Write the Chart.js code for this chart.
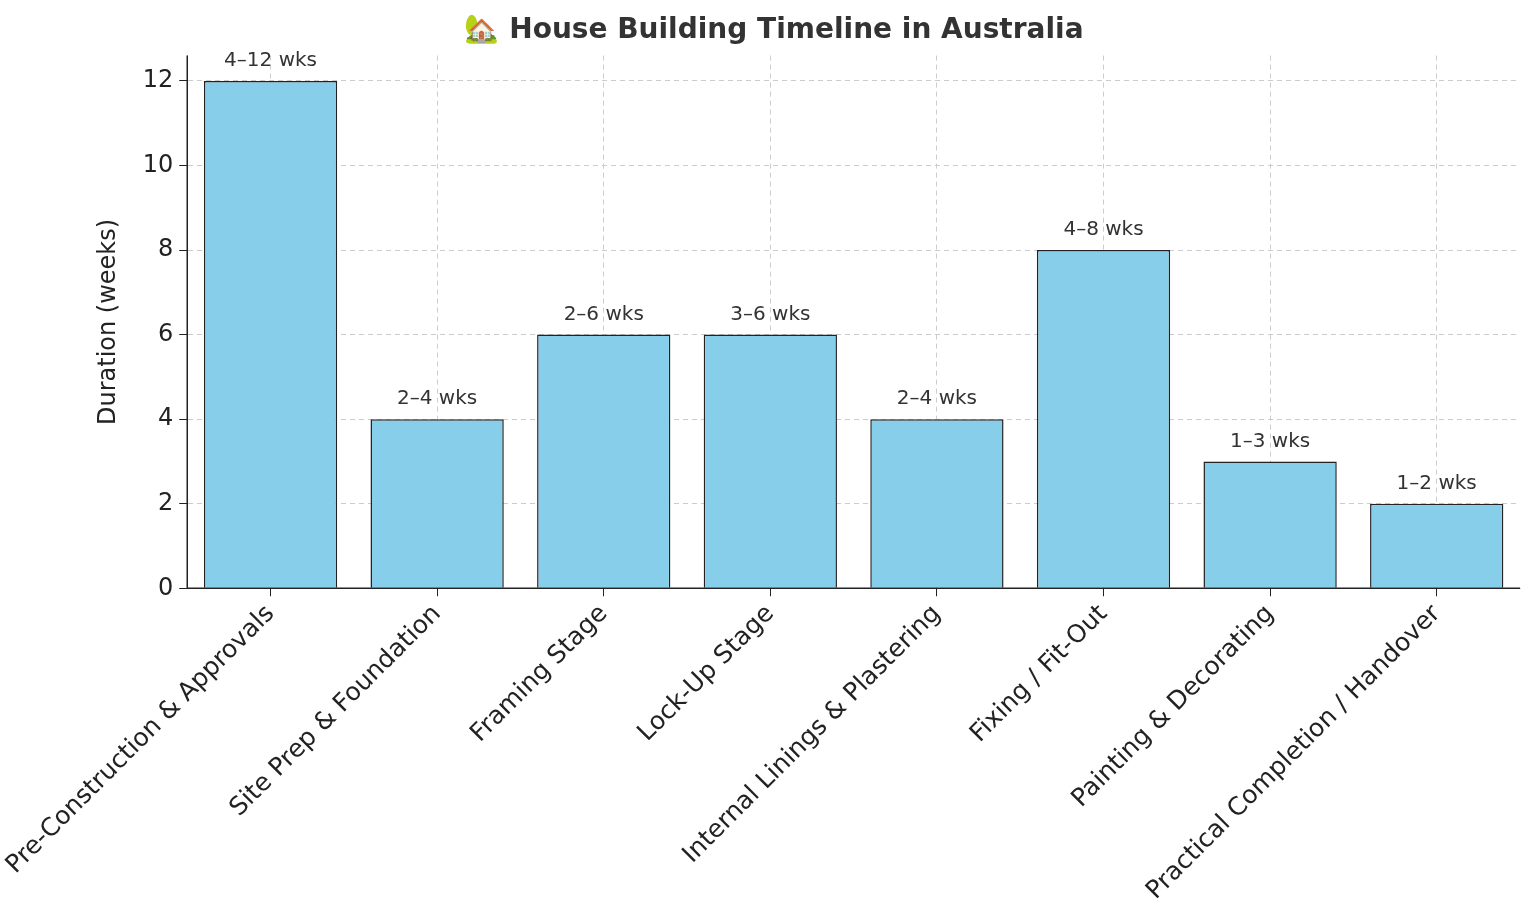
<!DOCTYPE html>
<html><head><meta charset="utf-8">
<script src="https://cdn.jsdelivr.net/npm/chart.js@4"></script>
<style>html,body{margin:0;background:#fff}#w{width:1536px;height:923px}</style>
</head><body><div id="w"><canvas id="c"></canvas></div>
<script>
const categories=["Pre-Construction & Approvals","Site Prep & Foundation","Framing Stage","Lock-Up Stage","Internal Linings & Plastering","Fixing / Fit-Out","Painting & Decorating","Practical Completion / Handover"];
const durations=[12,4,6,6,4,8,3,2];
const rangeLabels=["4–12 wks","2–4 wks","2–6 wks","3–6 wks","2–4 wks","4–8 wks","1–3 wks","1–2 wks"];
const F="DejaVu Sans";
const labelPlugin={id:"lbl",afterDatasetsDraw(ch){const c=ch.ctx;const m=ch.getDatasetMeta(0);c.save();c.font="20px '"+F+"'";c.fillStyle="#333";c.textAlign="center";c.textBaseline="bottom";m.data.forEach((b,i)=>c.fillText(rangeLabels[i],b.x,b.y-10));
const a=ch.chartArea;c.strokeStyle="#222";c.lineWidth=1.5;c.setLineDash([]);c.beginPath();c.moveTo(a.left,a.top);c.lineTo(a.left,a.bottom);c.lineTo(a.right,a.bottom);c.stroke();c.restore();}};
new Chart(document.getElementById("c"),{type:"bar",
data:{labels:categories,datasets:[{data:durations,backgroundColor:"#87ceeb",borderColor:"#222",borderWidth:1.5,barPercentage:0.8,categoryPercentage:1}]},
options:{responsive:true,maintainAspectRatio:false,animation:false,
layout:{padding:{left:28,right:16,top:4,bottom:14}},
plugins:{legend:{display:false},tooltip:{enabled:false},
title:{display:true,text:"🏡 House Building Timeline in Australia",font:{family:F,size:28,weight:"bold"},color:"#333",padding:{top:10,bottom:8}}},
scales:{
x:{offset:true,grid:{color:"#ccc",tickLength:8,offset:false,tickColor:"#222"},border:{color:"#ccc",width:1,dash:[5,4]},
ticks:{minRotation:45,maxRotation:45,font:{family:F,size:25},color:"#222",autoSkip:false}},
y:{min:0,max:12.6,afterBuildTicks(a){a.ticks=[0,2,4,6,8,10,12].map(v=>({value:v}));},
grid:{color:"#ccc",tickLength:8,tickColor:"#222"},border:{color:"#ccc",width:1,dash:[5,4]},
ticks:{font:{family:F,size:24},color:"#222",padding:6},
title:{display:true,text:"Duration (weeks)",font:{family:F,size:24},color:"#222",padding:{bottom:14}}}}},
plugins:[labelPlugin]});
</script></body></html>
